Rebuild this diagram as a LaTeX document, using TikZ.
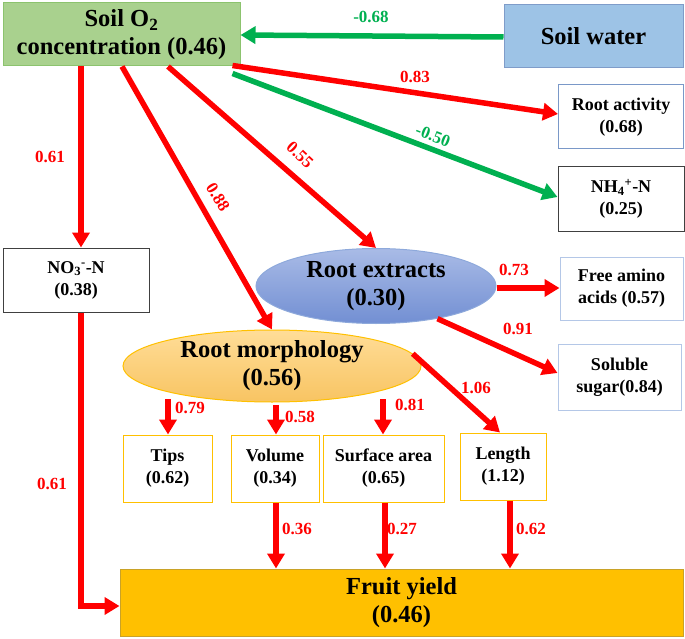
\documentclass[tikz,border=0pt]{standalone}
\usepackage{fontspec}
\setmainfont{Liberation Serif}
\usetikzlibrary{arrows.meta,calc,shapes.geometric,shadings}
\definecolor{myred}{HTML}{FF0000}
\definecolor{mygreen}{HTML}{00B050}
\definecolor{so2fill}{HTML}{A9D18E}
\definecolor{so2draw}{HTML}{8CC36E}
\definecolor{swfill}{HTML}{9DC3E6}
\definecolor{swdraw}{HTML}{7F9CC9}
\definecolor{ltblue}{HTML}{B4C7E7}
\definecolor{midblue}{HTML}{7A98C8}
\definecolor{dgray}{HTML}{404040}
\definecolor{gold}{HTML}{FFC000}
\definecolor{golddraw}{HTML}{C9A227}
\definecolor{retop}{HTML}{A9BBE6}
\definecolor{rebot}{HTML}{728FD3}
\definecolor{redraw}{HTML}{8EA9DB}
\definecolor{rmtop}{HTML}{FFDD98}
\definecolor{rmbot}{HTML}{F8C462}
\begin{document}
\begin{tikzpicture}[x=1pt,y=-1pt,
  box/.style={draw, rectangle, align=center, inner sep=0pt, line width=1pt, fill=white,
    font=\fontsize{18}{22}\selectfont\bfseries},
  bigtext/.style={align=center, inner sep=0pt, font=\fontsize{24.5}{28}\selectfont\bfseries},
  rarr/.style={draw=myred, line width=5.5pt, -{Triangle[length=15pt,width=17pt]}},
  garr/.style={draw=mygreen, line width=5.5pt, -{Triangle[length=15pt,width=17pt]}},
  lab/.style={font=\fontsize{17}{20}\selectfont\bfseries, text=myred, inner sep=0pt},
  glab/.style={font=\fontsize{17}{20}\selectfont\bfseries, text=mygreen, inner sep=0pt}
]
\useasboundingbox (0,0) rectangle (685,639);

% nodes
\node[bigtext, draw=so2draw, fill=so2fill, line width=1pt, minimum width=237pt, minimum height=63pt] (so2) at (121.5,34.5) {Soil O\textsubscript{2}\\concentration (0.46)};
\node[bigtext, draw=swdraw, fill=swfill, line width=1pt, minimum width=179pt, minimum height=63pt] (sw) at (593.5,36.5) {Soil water};
\node[box, draw=midblue, minimum width=125pt, minimum height=64pt] (ra) at (621,117) {Root activity\\(0.68)};
\node[box, draw=dgray, minimum width=126pt, minimum height=64pt] (nh) at (621,199) {NH\textsubscript{4}\textsuperscript{+}-N\\(0.25)};
\node[box, draw=dgray, minimum width=146pt, minimum height=64pt] (no) at (76,280) {NO\textsubscript{3}\textsuperscript{-}-N\\(0.38)};
\node[bigtext, ellipse, draw=redraw, line width=1pt, top color=retop, bottom color=rebot, minimum width=240pt, minimum height=75pt] (re) at (376,286) {Root extracts\\(0.30)};
\node[box, draw=ltblue, minimum width=123pt, minimum height=63pt] (fa) at (621.5,288.5) {Free amino\\acids (0.57)};
\node[box, draw=ltblue, minimum width=123pt, minimum height=66pt] (ss) at (619.5,377) {Soluble\\sugar(0.84)};
\node[bigtext, ellipse, draw=gold, line width=1pt, top color=rmtop, bottom color=rmbot, minimum width=298pt, minimum height=72pt] (rm) at (272,366) {Root morphology\\(0.56)};
\node[box, draw=gold, minimum width=89pt, minimum height=67pt] (tips) at (167.5,468.5) {Tips\\(0.62)};
\node[box, draw=gold, minimum width=88pt, minimum height=67pt] (vol) at (275,468.5) {Volume\\(0.34)};
\node[box, draw=gold, minimum width=121pt, minimum height=67pt] (sa) at (383.5,468.5) {Surface area\\(0.65)};
\node[box, draw=gold, minimum width=86pt, minimum height=67pt] (len) at (503,466.5) {Length\\(1.12)};
\node[bigtext, draw=golddraw, fill=gold, line width=1pt, minimum width=563pt, minimum height=67pt] (fy) at (401.5,602.5) {Fruit yield\\(0.46)};

% connectors
\draw[garr] (sw.west |- 0,37) -- (so2.east |- 0,35);
\draw[rarr] (so2.south -| 81,0) -- (no.north -| 81,0);
\draw[rarr] (so2.south -| 122,0) -- (rm.north);
\draw[rarr] (so2.south -| 168,0) -- (re.north);
\draw[rarr] ($(so2.south east)+(-8,-1)$) -- ($(ra.west)+(0,-3)$);
\draw[garr] ($(so2.south east)+(-8,7)$) -- ($(nh.west)+(0,-2)$);
\draw[rarr, line join=miter] (no.south -| 81,0) |- (fy.west |- 0,606);
\draw[rarr] (re.east |- 0,288) -- (fa.west |- 0,288);
\draw[rarr] (re.-28) -- ($(ss.west)+(0,-4)$);
\draw[rarr] (168,399) -- (tips.north -| 168,0);
\draw[rarr] (276,405) -- (vol.north -| 276,0);
\draw[rarr] (383,399) -- (sa.north -| 383,0);
\draw[rarr] (rm.5) -- ($(len.north)+(-3,0)$);
\draw[rarr] (vol.south -| 276,0) -- (fy.north -| 276,0);
\draw[rarr] (sa.south -| 385,0) -- (fy.north -| 385,0);
\draw[rarr] (len.south -| 510,0) -- (fy.north -| 510,0);

% labels
\node[glab] (l1) at (371,17) {-0.68};
\node[lab] (l2) at (415,77) {0.83};
\node[glab, rotate=-21] (l3) at (433,136) {-0.50};
\node[lab, rotate=-43] (l4) at (300,155) {0.55};
\node[lab, rotate=-58] (l5) at (218,197) {0.88};
\node[lab] (l6) at (50,157) {0.61};
\node[lab] (l7) at (52,484) {0.61};
\node[lab] (l8) at (514,270) {0.73};
\node[lab] (l9) at (518,329) {0.91};
\node[lab] (l10) at (190,408) {0.79};
\node[lab] (l11) at (300,417) {0.58};
\node[lab] (l12) at (410,405) {0.81};
\node[lab] (l13) at (476,388) {1.06};
\node[lab] (l14) at (297,529) {0.36};
\node[lab] (l15) at (402,529) {0.27};
\node[lab] (l16) at (531,529) {0.62};
\end{tikzpicture}
\end{document}
